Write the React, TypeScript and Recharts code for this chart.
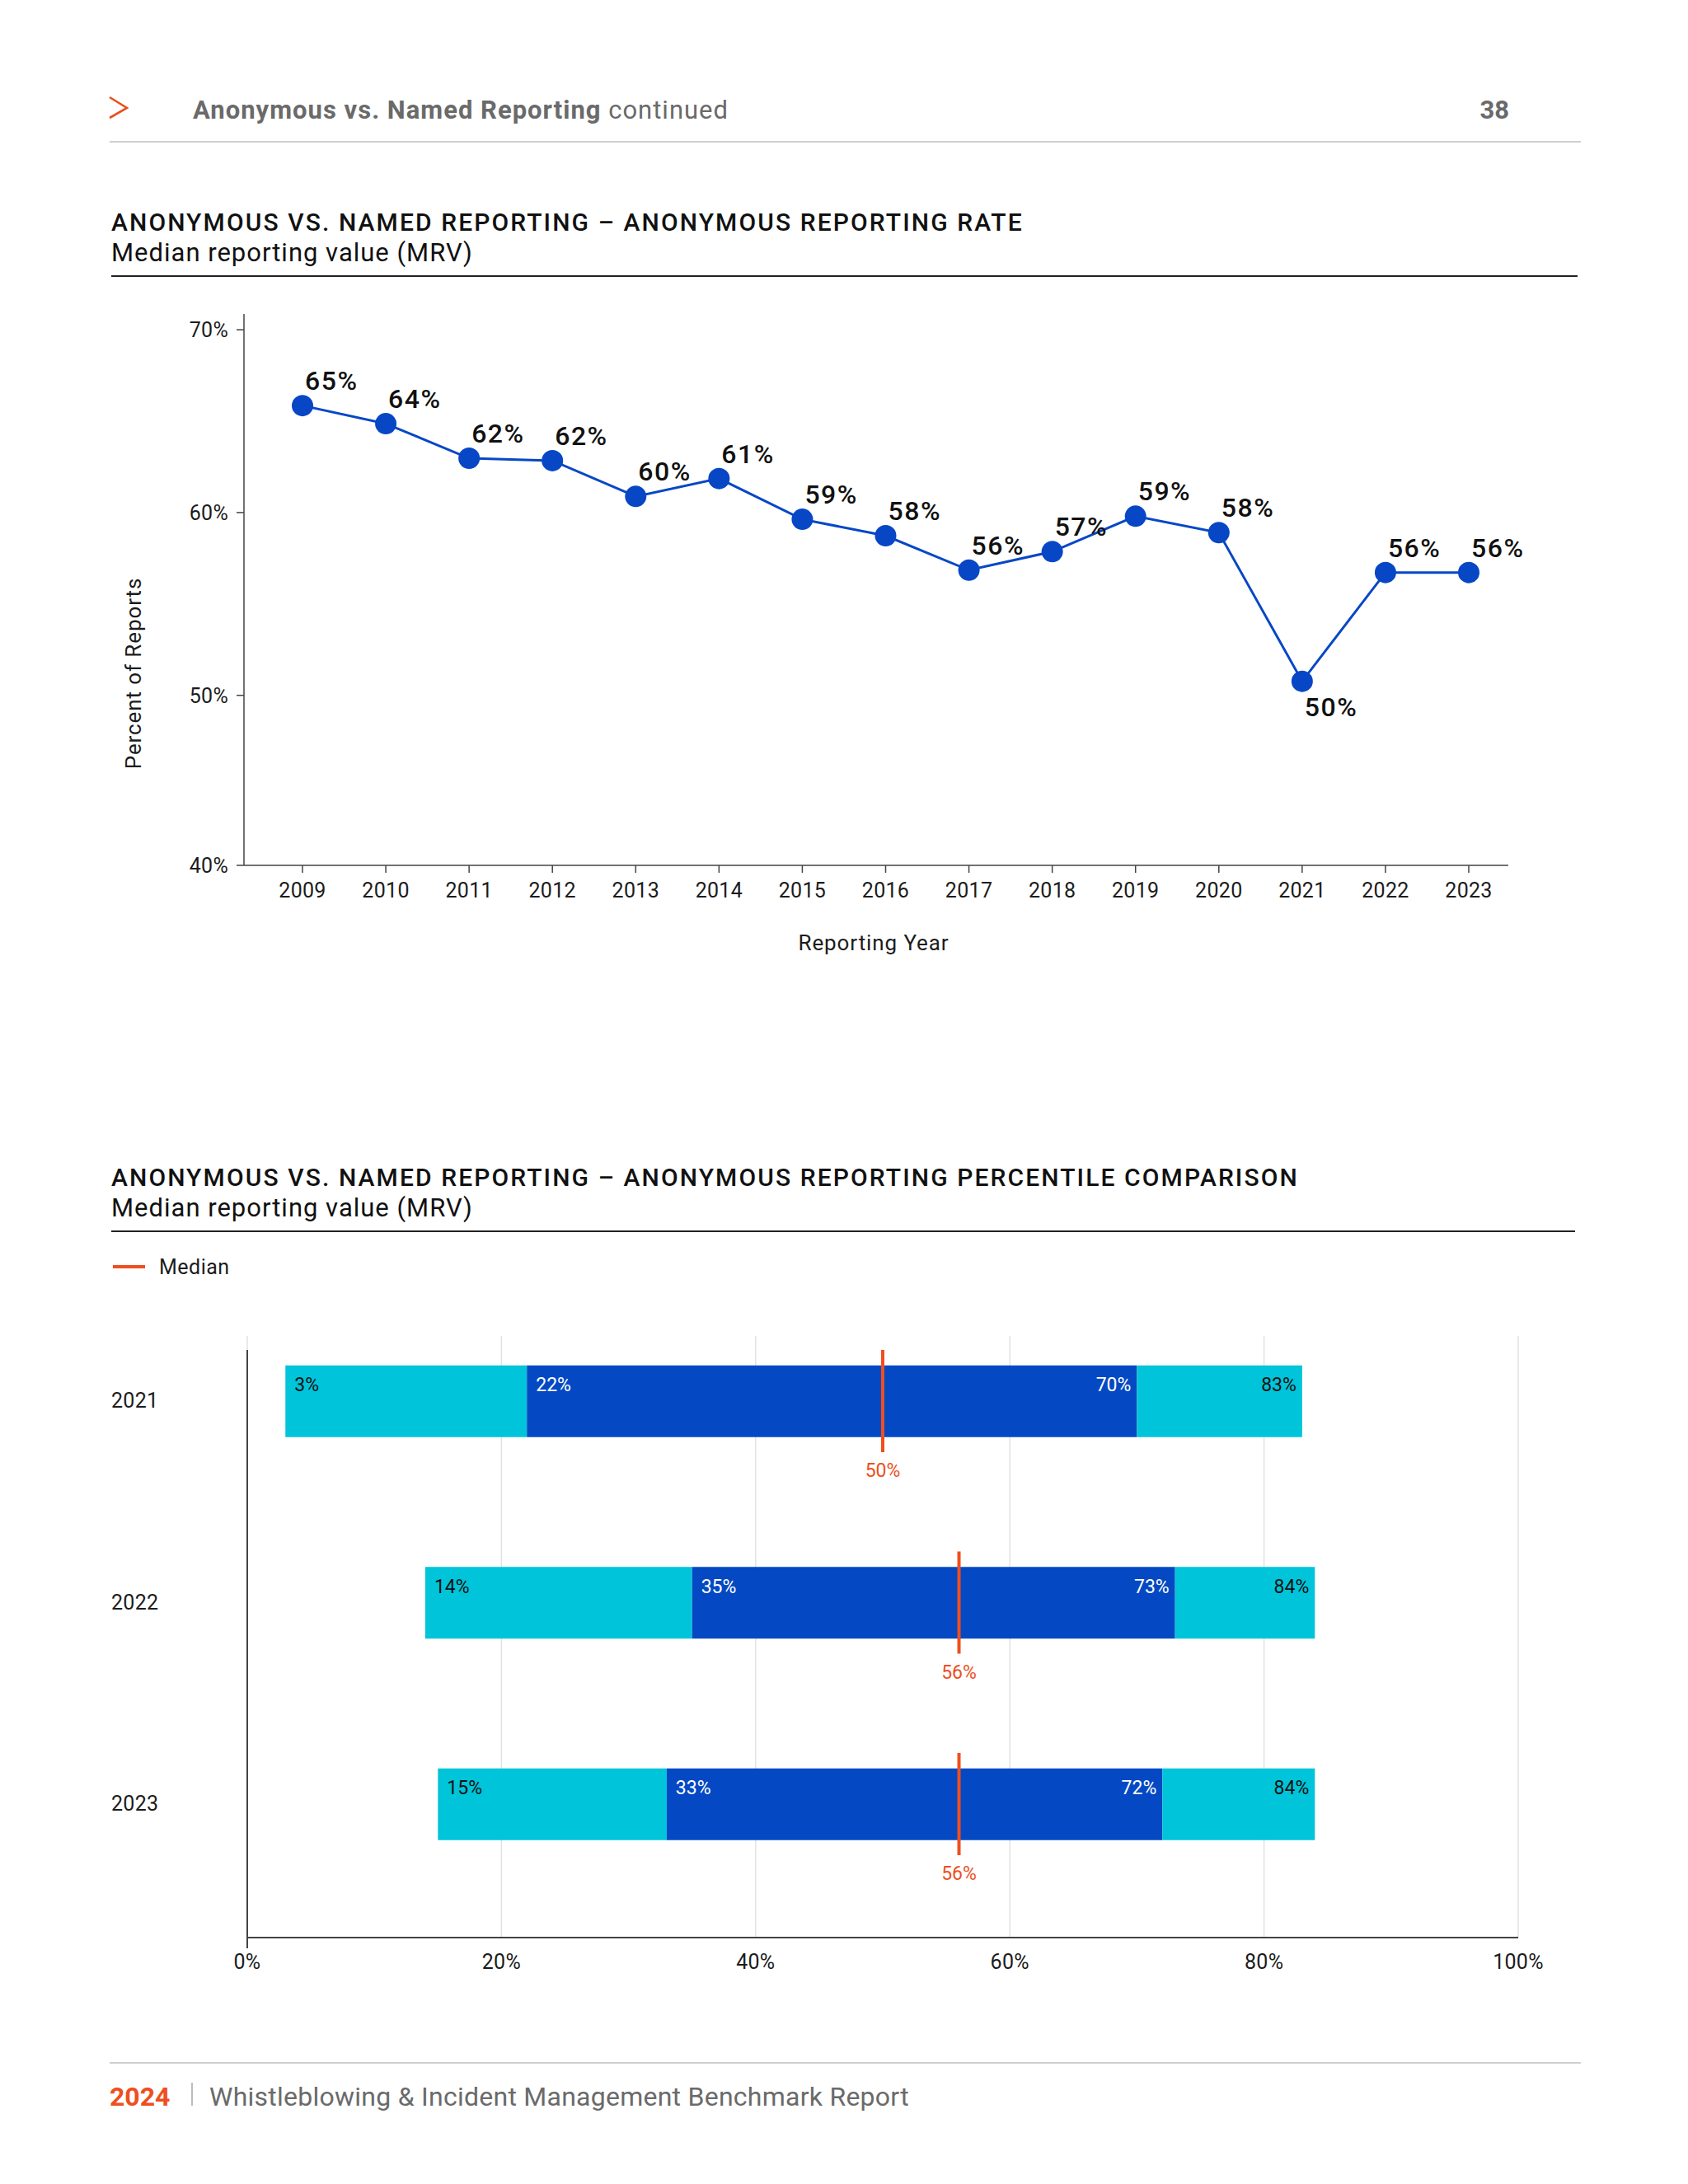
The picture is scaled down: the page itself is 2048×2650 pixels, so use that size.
import React from 'react';
import {
  LineChart,
  Line,
  XAxis,
  YAxis,
  LabelList,
  BarChart,
  Bar,
  CartesianGrid,
  ReferenceLine,
} from 'recharts';

const FONT = 'Roboto, "Noto Sans", sans-serif';
const BLUE = '#0747C6';
const DARK = '#0449C3';
const CYAN = '#00C4D9';
const ORANGE = '#EE4F1E';
const AXIS = '#444444';
const TEXT = '#1c1c1c';

// ---------- Chart 1: anonymous reporting rate ----------
const rateYears = ['2009', '2010', '2011', '2012', '2013', '2014', '2015', '2016', '2017', '2018', '2019', '2020', '2021', '2022', '2023'];
const rateValues = [65.85, 64.86, 62.97, 62.84, 60.88, 61.86, 59.63, 58.73, 56.85, 57.86, 59.8, 58.9, 50.77, 56.72, 56.72];
const rateTicks = [40.7, 50, 60, 70];
const rateLabelBelowYears = ['2021'];

const rateData = rateYears.map((year, i) => ({ year, value: rateValues[i] }));

// ---------- Chart 2: percentile comparison ----------
const pctYears = ['2021', '2022', '2023'];
const p10 = [3, 14, 15];
const p25 = [22, 35, 33];
const p75 = [70, 73, 72];
const p90 = [83, 84, 84];
const medians = [50, 56, 56];
const pctTicks = [0, 20, 40, 60, 80, 100];

// rows are placed top-down at positions 0, 1, 2 on a numeric band axis
const pctData = pctYears.map((year, i) => ({
  pos: i,
  year,
  base: p10[i],
  low: p25[i] - p10[i],
  mid: p75[i] - p25[i],
  high: p90[i] - p75[i],
}));

const MEDIAN_HALF = 0.2536;
const Y_MIN = -0.3231;
const Y_MAX = 2.6626;

const RateLabel = (props: any) => {
  const { x, y, value, index } = props;
  const below = rateLabelBelowYears.includes(rateYears[index]);
  return (
    <text
      x={Number(x) + 3}
      y={below ? Number(y) + 42 : Number(y) - 19}
      fontSize={32}
      fontWeight={500}
      letterSpacing={1.5}
      fill="#111"
      fontFamily={FONT}
    >
      {`${Math.floor(Number(value))}%`}
    </text>
  );
};

const PctTick = (props: any) => {
  const { x, y, payload } = props;
  return (
    <g>
      {payload.value === 0 && (
        <line x1={x} x2={x} y1={y} y2={Number(y) + 13} stroke={AXIS} strokeWidth={2} />
      )}
      <text
        x={x}
        y={Number(y) + 29}
        textAnchor="middle"
        dominantBaseline="central"
        fontSize={25}
        letterSpacing={0.3}
        fill={TEXT}
        fontFamily={FONT}
      >
        {`${payload.value}%`}
      </text>
    </g>
  );
};

const YearTick = (props: any) => {
  const { y, payload } = props;
  return (
    <text x={35} y={y} dominantBaseline="central" fontSize={25} letterSpacing={0.3} fill={TEXT} fontFamily={FONT}>
      {pctYears[Math.round(payload.value)]}
    </text>
  );
};

const makeSegLabel = (
  left: number[] | null,
  right: number[] | null,
  color: string
) => (props: any) => {
  const { x, y, width, index } = props;
  const X = Number(x);
  const Y = Number(y) + 24;
  const W = Number(width);
  return (
    <g>
      {left && (
        <text x={X + 11} y={Y} dominantBaseline="central" fontSize={23} fill={color} fontFamily={FONT}>
          {`${left[index]}%`}
        </text>
      )}
      {right && (
        <text
          x={X + W - 7}
          y={Y}
          textAnchor="end"
          dominantBaseline="central"
          fontSize={23}
          fill={color}
          fontFamily={FONT}
        >
          {`${right[index]}%`}
        </text>
      )}
    </g>
  );
};

const abs = (s: React.CSSProperties): React.CSSProperties => ({
  position: 'absolute',
  lineHeight: 1,
  whiteSpace: 'nowrap',
  margin: 0,
  ...s,
});

export default function App() {
  return (
    <div
      style={{
        position: 'absolute',
        left: 0,
        top: 0,
        width: 2048,
        height: 2650,
        background: '#ffffff',
        fontFamily: FONT,
        overflow: 'hidden',
      }}
    >
      {/* Header */}
      <svg style={{ position: 'absolute', left: 128, top: 112 }} width={32} height={38}>
        <polyline points="5,6 26,19 5,31" fill="none" stroke="#E8501F" strokeWidth={2.6} />
      </svg>
      <div style={abs({ left: 234, top: 118, fontSize: 31, letterSpacing: 1.0, color: '#6a6a6a' })}>
        <span style={{ fontWeight: 700 }}>Anonymous vs. Named Reporting</span>
        <span style={{ fontWeight: 400 }}> continued</span>
      </div>
      <div style={abs({ right: 217, top: 118, fontSize: 31, fontWeight: 700, color: '#6a6a6a' })}>38</div>
      <div style={abs({ left: 133, top: 171, width: 1785, height: 2, background: '#cfcfcf' })} />

      {/* Chart 1 titles */}
      <div style={abs({ left: 135, top: 255, fontSize: 30, fontWeight: 500, letterSpacing: 2.1, color: '#111' })}>
        ANONYMOUS VS. NAMED REPORTING – ANONYMOUS REPORTING RATE
      </div>
      <div style={abs({ left: 135, top: 291, fontSize: 31, letterSpacing: 1.0, color: '#111' })}>
        Median reporting value (MRV)
      </div>
      <div style={abs({ left: 135, top: 334, width: 1779, height: 1.6, background: '#222' })} />

      {/* Chart 1 */}
      <div style={{ position: 'absolute', left: 100, top: 340 }}>
        <LineChart
          width={1800}
          height={840}
          data={rateData}
          margin={{ top: 41, right: 70, bottom: 70, left: 116 }}
        >
          <XAxis
            dataKey="year"
            padding={{ left: 71, right: 48 }}
            interval={0}
            tickSize={9}
            tickMargin={12}
            height={60}
            axisLine={{ stroke: AXIS, strokeWidth: 1.5 }}
            tickLine={{ stroke: AXIS, strokeWidth: 1.5 }}
            tick={{ fill: TEXT, fontSize: 25, fontFamily: FONT, letterSpacing: 0.3 }}
          />
          <YAxis
            type="number"
            domain={[40.7, 70.86]}
            ticks={rateTicks}
            interval={0}
            tickFormatter={(v: number) => `${Math.floor(v)}%`}
            width={80}
            tickSize={9}
            tickMargin={10}
            axisLine={{ stroke: AXIS, strokeWidth: 1.5 }}
            tickLine={{ stroke: AXIS, strokeWidth: 1.5 }}
            tick={{ fill: TEXT, fontSize: 25, fontFamily: FONT, letterSpacing: 0.3 }}
          />
          <Line
            type="linear"
            dataKey="value"
            stroke={BLUE}
            strokeWidth={3}
            dot={{ r: 13, fill: BLUE, stroke: BLUE, strokeWidth: 0 }}
            activeDot={false}
            isAnimationActive={false}
          >
            <LabelList dataKey="value" content={RateLabel} />
          </Line>
        </LineChart>
      </div>
      <div
        style={abs({
          left: 162,
          top: 817,
          fontSize: 26,
          letterSpacing: 0.9,
          color: TEXT,
          transform: 'translate(-50%, -50%) rotate(-90deg)',
        })}
      >
        Percent of Reports
      </div>
      <div style={abs({ left: 1060, top: 1131, fontSize: 26, letterSpacing: 0.9, color: TEXT, transform: 'translateX(-50%)' })}>
        Reporting Year
      </div>

      {/* Chart 2 titles */}
      <div style={abs({ left: 135, top: 1414, fontSize: 30, fontWeight: 500, letterSpacing: 2.1, color: '#111' })}>
        ANONYMOUS VS. NAMED REPORTING – ANONYMOUS REPORTING PERCENTILE COMPARISON
      </div>
      <div style={abs({ left: 135, top: 1450, fontSize: 31, letterSpacing: 1.0, color: '#111' })}>
        Median reporting value (MRV)
      </div>
      <div style={abs({ left: 135, top: 1493, width: 1776, height: 1.6, background: '#222' })} />

      {/* Legend */}
      <div style={abs({ left: 137, top: 1535, width: 39, height: 3.5, background: ORANGE })} />
      <div style={abs({ left: 193, top: 1525, fontSize: 25, letterSpacing: 0.5, color: TEXT })}>Median</div>

      {/* Chart 2 */}
      <div style={{ position: 'absolute', left: 100, top: 1600 }}>
        <BarChart
          layout="vertical"
          width={1800}
          height={850}
          data={pctData}
          barSize={87}
          margin={{ top: 21, right: 58, bottom: 49, left: 0 }}
        >
          <CartesianGrid horizontal={false} stroke="#e2e2e2" strokeWidth={1.5} />
          <XAxis
            type="number"
            domain={[0, 100]}
            ticks={pctTicks}
            interval={0}
            height={50}
            tickSize={0}
            tickMargin={0}
            tickLine={false}
            axisLine={{ stroke: AXIS, strokeWidth: 2 }}
            tick={PctTick}
          />
          <YAxis
            type="number"
            dataKey="pos"
            domain={[Y_MIN, Y_MAX]}
            ticks={[0, 1, 2]}
            interval={0}
            width={200}
            axisLine={false}
            tickLine={false}
            tick={YearTick}
          />
          <ReferenceLine
            segment={[
              { x: 0, y: -MEDIAN_HALF },
              { x: 0, y: Y_MAX },
            ]}
            stroke={AXIS}
            strokeWidth={2}
            ifOverflow="visible"
          />
          <Bar dataKey="base" stackId="a" fill="transparent" isAnimationActive={false} />
          <Bar dataKey="low" stackId="a" fill={CYAN} isAnimationActive={false}>
            <LabelList dataKey="low" content={makeSegLabel(p10, null, '#111')} />
          </Bar>
          <Bar dataKey="mid" stackId="a" fill={DARK} isAnimationActive={false}>
            <LabelList dataKey="mid" content={makeSegLabel(p25, p75, '#ffffff')} />
          </Bar>
          <Bar dataKey="high" stackId="a" fill={CYAN} isAnimationActive={false}>
            <LabelList dataKey="high" content={makeSegLabel(null, p90, '#111')} />
          </Bar>
          {medians.map((m, i) => (
            <ReferenceLine
              key={`med-${i}`}
              segment={[
                { x: m, y: i - MEDIAN_HALF },
                { x: m, y: i + MEDIAN_HALF },
              ]}
              stroke={ORANGE}
              strokeWidth={4}
              ifOverflow="visible"
              label={{
                value: `${m}%`,
                position: 'bottom',
                offset: 14,
                fill: ORANGE,
                fontSize: 23,
                fontFamily: FONT,
              }}
            />
          ))}
        </BarChart>
      </div>

      {/* Footer */}
      <div style={abs({ left: 133, top: 2502, width: 1785, height: 2, background: '#cfcfcf' })} />
      <div style={abs({ left: 133, top: 2528, fontSize: 32, fontWeight: 700, color: ORANGE })}>2024</div>
      <div style={abs({ left: 232, top: 2527, width: 1.5, height: 28, background: '#bdbdbd' })} />
      <div style={abs({ left: 254, top: 2528, fontSize: 32, letterSpacing: 0.25, color: '#6a6a6a' })}>
        Whistleblowing &amp; Incident Management Benchmark Report
      </div>
    </div>
  );
}
